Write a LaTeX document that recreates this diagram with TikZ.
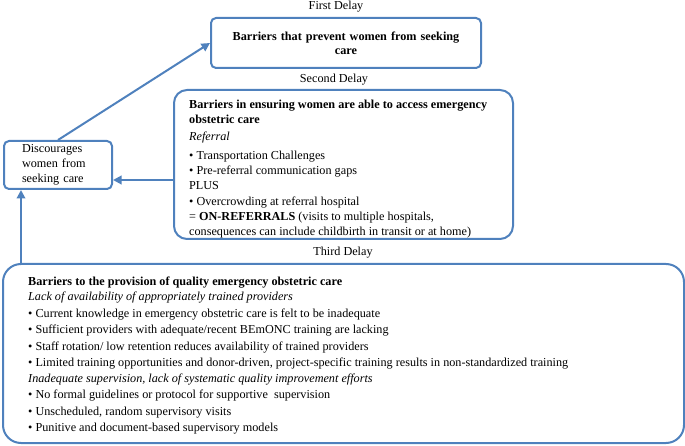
\documentclass[tikz,border=0pt]{standalone}
\usepackage{fontspec}
\setmainfont{Liberation Serif}
\usepackage{tikz}
\usetikzlibrary{positioning,arrows.meta}
\definecolor{delayblue}{RGB}{79,129,189}

\begin{document}
\begin{tikzpicture}[x=1pt,y=-1pt,
  delaybox/.style={draw=delayblue, line width=2pt, anchor=north west},
  boxtext/.style={anchor=north west, inner sep=0pt, align=left},
  arr/.style={draw=delayblue, line width=2pt, -{Triangle[length=8.5pt,width=8.5pt]}},
  label/.style={anchor=base, inner sep=0pt, font=\fontsize{12.2}{14}\selectfont}]
\useasboundingbox (0,0) rectangle (685,446);

% Delay labels
\node[label] (firstlabel) at (336,10) {First Delay};
\node[label] (secondlabel) at (334,83) {Second Delay};
\node[label] (thirdlabel) at (343,256) {Third Delay};

% First delay box
\node[delaybox, rounded corners=5pt, minimum width=270pt, minimum height=50pt,
  text width=250pt, align=center, inner sep=0pt,
  font=\fontsize{12.2}{14.4}\selectfont\bfseries] (first) at (210,17)
  {Barriers that prevent women from seeking\\care};

% Second delay box
\node[delaybox, rounded corners=13pt, minimum width=339pt, minimum height=149pt] (second) at (173,89) {};
\node[boxtext, font=\fontsize{12.2}{15.3}\selectfont] (secondtext) at (189,98.5)
  {\rule{0pt}{10pt}\textbf{Barriers in ensuring women are able to access emergency}\\[-0.8pt]
   \textbf{obstetric care}\\[2.2pt]
   \textit{Referral}\\[3.2pt]
   • Transportation Challenges\\
   • Pre-referral communication gaps\\
   PLUS\\
   • Overcrowding at referral hospital\\
   = \textbf{ON-REFERRALS} (visits to multiple hospitals,\\
   consequences can include childbirth in transit or at home)};

% Outcome box
\node[delaybox, rounded corners=5pt, minimum width=108pt, minimum height=48pt,
  text width=72pt, align=left, inner xsep=18pt, inner ysep=0pt,
  font=\fontsize{12.2}{15}\selectfont] (disc) at (3,140)
  {Discourages\\women from\\seeking care};

% Third delay box
\node[delaybox, rounded corners=18pt, minimum width=681pt, minimum height=179pt] (third) at (2,263) {};
\node[boxtext, font=\fontsize{12.2}{16.3}\selectfont] (thirdtext) at (28,275)
  {\rule{0pt}{10pt}\textbf{Barriers to the provision of quality emergency obstetric care}\\[-0.8pt]
   \textit{Lack of availability of appropriately trained providers}\\[0.4pt]
   • Current knowledge in emergency obstetric care is felt to be inadequate\\
   • Sufficient providers with adequate/recent BEmONC training are lacking\\
   • Staff rotation/ low retention reduces availability of trained providers\\
   • Limited training opportunities and donor-driven, project-specific training results in non-standardized training\\
   \textit{Inadequate supervision, lack of systematic quality improvement efforts}\\
   • No formal guidelines or protocol for supportive\ \ supervision\\
   • Unscheduled, random supervisory visits\\
   • Punitive and document-based supervisory models};

% Connectors
\draw[arr] (disc.north) -- (first.west);
\draw[arr] (second.west |- 0,180) -- (disc.east |- 0,180);
\draw[arr] (third.north -| 21,0) -- (disc.south -| 21,0);
\end{tikzpicture}
\end{document}
